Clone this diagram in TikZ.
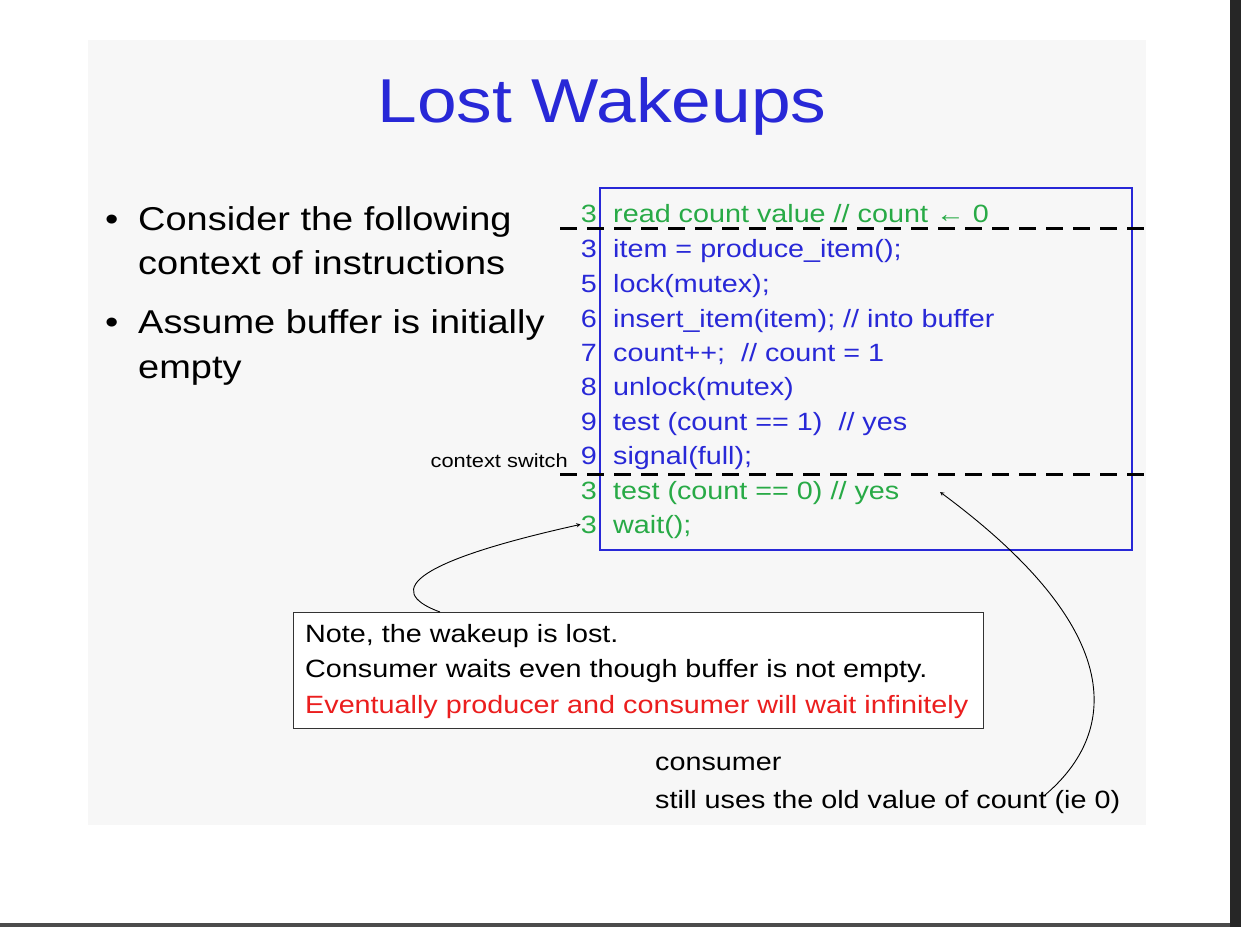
\documentclass[tikz,border=0pt]{standalone}
\usepackage{fontspec}
\setmainfont[FakeStretch=1.15]{Liberation Sans}
\begin{document}
\begin{tikzpicture}[x=1pt,y=-1pt,
  code/.style={anchor=base west,inner sep=0pt,font=\fontsize{25}{25}\selectfont},
  num/.style={anchor=base east,inner sep=0pt,font=\fontsize{25}{25}\selectfont},
  body/.style={anchor=base west,inner sep=0pt,font=\fontsize{33}{33}\selectfont},
  note/.style={anchor=base west,inner sep=0pt,font=\fontsize{25}{25}\selectfont},
  dashline/.style={line width=3pt,dash pattern=on 17pt off 10pt}]
\definecolor{bl}{RGB}{40,40,215}
\definecolor{gr}{RGB}{40,170,70}
\definecolor{rd}{RGB}{235,30,30}
\useasboundingbox (0,0) rectangle (1241,927);
\fill[white] (0,0) rectangle (1241,927);
\fill[black!3] (88,40) rectangle (1146,825);
\fill[black!85] (1230,0) rectangle (1241,927);
\fill[black!70] (0,923) rectangle (1230,927);
\node[inner sep=0pt,anchor=base,text=bl,font=\fontsize{62}{62}\selectfont] (title) at (602,122) {Lost Wakeups};
\node[body] (b1) at (105,230) {•};
\node[body] (t1) at (138,230) {Consider the following};
\node[body] (t2) at (138,274) {context of instructions};
\node[body] (b2) at (105,333) {•};
\node[body] (t3) at (138,333) {Assume buffer is initially};
\node[body] (t4) at (138,378) {empty};
\draw[bl,line width=1.2pt] (600,188) rectangle (1132,550);
\foreach \y/\n/\t/\c [count=\i] in {
 222/3/{read count value // count ← 0}/gr,
 257/3/{item = produce\_item();}/bl,
 292/5/{lock(mutex);}/bl,
 327/6/{insert\_item(item); // into buffer}/bl,
 361/7/{count++;\ \ // count = 1}/bl,
 395/8/{unlock(mutex)}/bl,
 430/9/{test (count == 1)\ \ // yes}/bl,
 464/9/{signal(full);}/bl,
 499/3/{test (count == 0) // yes}/gr,
 533/3/{wait();}/gr}{
  \node[num,text=\c] (n\i) at (597,\y) {\n};
  \node[code,text=\c] (c\i) at (613,\y) {\t};
}
\draw[dashline] (560,228) -- (1146,228);
\draw[dashline] (560,474) -- (1146,474);
\node[anchor=base east,inner sep=0pt,font=\fontsize{19}{19}\selectfont] (cs) at (568,467) {context switch};
\node[draw=black!80,line width=1pt,fill=white,minimum width=690pt,minimum height=116pt,anchor=north west,inner sep=0pt] (box) at (293,612) {};
\node[note] (l1) at (305,642) {Note, the wakeup is lost.};
\node[note] (l2) at (305,677) {Consumer waits even though buffer is not empty.};
\node[note,text=rd] (l3) at (305,713) {Eventually producer and consumer will wait infinitely};
\node[note] (k1) at (655,770) {consumer};
\node[note] (k2) at (655,808) {still uses the old value of count (ie 0)};
\coordinate (s1) at (440,612);
\coordinate (s2) at (1045,795);
\coordinate (e2) at (940,492);
\draw[-stealth,line width=0.9pt] (s1) .. controls (380,590) and (420,560) .. (n10.west);
\draw[-stealth,line width=0.9pt] (s2) .. controls (1110,740) and (1140,640) .. (e2);
\end{tikzpicture}
\end{document}
